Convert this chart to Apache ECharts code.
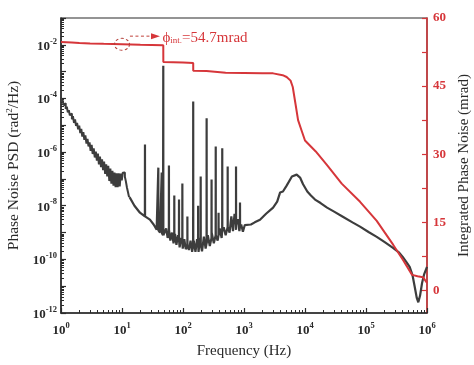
<!DOCTYPE html>
<html>
<head>
<meta charset="utf-8">
<script src="https://cdn.jsdelivr.net/npm/echarts@6/dist/echarts.min.js"></script>
<style>html,body{margin:0;padding:0;background:#fff;}#c{width:474px;height:365px;}</style>
</head>
<body>
<div id="c"></div>
<script>
// ---- Phase noise PSD (black), log10 of rad^2/Hz ----
// noisy low-frequency band (alternating upper / lower edge of the noise)
const lowFreq = [1.00,1.04,1.08,1.12,1.17,1.22,1.27,1.32,1.37,1.42,1.48,1.54,1.60,1.67,1.73,1.80,1.87,1.95,2.03,2.11,2.19,2.28,2.37,2.46,2.56,2.67,2.77,2.88,3.00,3.12,3.24,3.37,3.51,3.65,3.80,3.95,4.10,4.27,4.44,4.62,4.80,4.99,5.19,5.40,5.62,5.84,6.07,6.32,6.57,6.83,7.11,7.39,7.69,8.00,8.32,8.65,9.00,9.36,9.73,10.1,10.5,10.9,11.4,11.8,12.3,12.8,13.3];
const lowExp = [-3.98,-4.13,-4.05,-4.25,-4.18,-4.39,-4.31,-4.52,-4.44,-4.63,-4.56,-4.78,-4.66,-4.91,-4.78,-5.02,-4.91,-5.15,-5.01,-5.29,-5.13,-5.42,-5.26,-5.54,-5.38,-5.68,-5.51,-5.79,-5.64,-5.95,-5.73,-6.07,-5.86,-6.2,-5.98,-6.32,-6.06,-6.46,-6.17,-6.56,-6.27,-6.67,-6.35,-6.81,-6.46,-6.91,-6.51,-7.08,-6.61,-7.18,-6.7,-7.25,-6.76,-7.31,-6.79,-7.31,-6.79,-7.28,-6.8,-7.05,-6.77,-6.76,-6.92,-7.1,-7.32,-7.5,-7.68];
// rest of the spectrum
const psdFreq = [13.3,16,19.7,24,28.7,33,37,42,47,
  50,53,56,59,62,66,70,74,78,83,88,93,99,105,111,118,125,133,141,150,160,170,180,190,205,220,235,255,275,295,320,345,370,400,430,465,500,540,580,620,660,700,740,790,840,900,960,1030,1100,1300,1500,
  1830,2300,3000,3500,3900,4350,5000,6100,7300,8300,9300,10900,12500,14600,18000,23000,30000,41700,60000,79800,110000,150000,200000,277000,350000,400000,460000,520000,580000,630000,680000,720000,770000,830000,900000,1000000];
const psdExp = [-7.68,-8.0,-8.26,-8.4,-8.52,-8.7,-8.89,-9.0,-9.1,
  -9.1,-8.85,-9.2,-8.9,-9.3,-9.0,-9.4,-9.05,-9.46,-9.1,-9.55,-9.2,-9.6,-9.25,-9.62,-9.2,-9.65,-9.3,-9.72,-9.3,-9.72,-9.25,-9.72,-9.2,-9.7,-9.15,-9.6,-9.1,-9.5,-9.0,-9.4,-8.95,-9.3,-8.85,-9.2,-8.8,-9.1,-8.6,-9.0,-8.4,-8.95,-8.3,-8.9,-8.5,-8.95,-8.7,-8.97,-8.72,-8.78,-8.7,-8.62,
  -8.52,-8.3,-8.07,-7.85,-7.51,-7.47,-7.25,-6.91,-6.84,-6.95,-7.2,-7.47,-7.62,-7.77,-7.9,-8.07,-8.22,-8.41,-8.62,-8.78,-8.98,-9.16,-9.35,-9.57,-9.75,-9.91,-10.1,-10.28,-10.6,-11.03,-11.44,-11.6,-11.35,-10.88,-10.55,-10.28];
// spikes (line harmonics)
const spikeFreq = [23.8,39.4,44.8,47.5,58.8,72,86,97.6,118,147,177,195,244,294,344,383,440,540,740,860];
const spikePeakExp = [-5.72,-6.58,-6.76,-2.78,-6.5,-7.62,-7.77,-7.17,-8.4,-4.11,-8.0,-6.91,-4.74,-7.02,-5.79,-8.26,-5.86,-6.54,-6.54,-7.88];
const spikeBaseExp = [-8.4,-8.92,-9.02,-9.1,-9.0,-9.2,-9.3,-9.4,-9.5,-9.5,-9.5,-9.45,-9.4,-9.2,-9.1,-9.1,-8.95,-8.8,-8.7,-8.8];

// ---- Integrated phase noise (red), mrad ----
const intFreq = [1,1.5,2,3,5,10,20,47.5,47.6,100,147,147.2,243,246,500,1000,2000,3000,4300,5000,5800,6300,7000,7700,8900,10000,15000,23000,40000,80000,150000,280000,400000,570000,700000,860000,1000000];
const intVal  = [54.7,54.6,54.5,54.4,54.3,54.2,54.1,54.0,50.3,50.2,50.1,48.4,48.3,48.0,47.95,47.9,47.85,47.8,47.4,47.0,46.2,44.8,41.0,37.5,35.0,33.0,30.6,27.6,23.5,19.5,15.3,10.0,6.8,3.4,3.1,2.9,1.6];

// ---- ticks ----
const xMajor = [1,10,100,1e3,1e4,1e5,1e6];
const yMajor = [1e-12,1e-11,1e-10,1e-9,1e-8,1e-7,1e-6,1e-5,1e-4,1e-3,1e-2,1e-1];
const yLabels = [1e-12,1e-10,1e-8,1e-6,1e-4,1e-2];
const rLabels = [0,15,30,45,60];
const rTicks = [0,7.5,15,22.5,30,37.5,45,52.5,60];
const minorMult = [2,3,4,5,6,7,8,9];
function minors(majors){ const out=[]; for(let i=0;i<majors.length-1;i++){ for(const m of minorMult) out.push(majors[i]*m); } return out; }
const xMinor = minors(xMajor);
const yMinor = minors(yMajor);

// build PSD series
const lowPts = lowFreq.map((f,i)=>[f, Math.pow(10, lowExp[i])]);
const pts = psdFreq.map((f,i)=>[f, Math.pow(10, psdExp[i])]);
spikeFreq.forEach((f,i)=>{
  pts.push([f/1.003, Math.pow(10, spikeBaseExp[i])]);
  pts.push([f, Math.pow(10, spikePeakExp[i])]);
  pts.push([f*1.003, Math.pow(10, spikeBaseExp[i])]);
});
pts.sort((a,b)=>a[0]-b[0]);
const intPts = intFreq.map((f,i)=>[f,intVal[i]]);

const SERIF = '"Liberation Serif","DejaVu Serif",serif';
const DARK = '#2a2a2a';
const RED = '#d6363a';
const BLK = '#3d3d3d';
const expFmt = v => { const e = Math.round(Math.log10(v)); return '{b|10}{s|' + e + '}'; };
const richExp = {
  b:{fontFamily:SERIF,fontSize:13,fontWeight:'bold',color:DARK,verticalAlign:'bottom',lineHeight:16},
  s:{fontFamily:SERIF,fontSize:8.5,fontWeight:'bold',color:DARK,verticalAlign:'top',lineHeight:16,padding:[0,0,0,0]}
};

const chart = echarts.init(document.getElementById('c'), null, {renderer:'canvas'});
const option = {
  animation:false,
  backgroundColor:'#fff',
  grid:{left:61,right:47,top:18,bottom:52,containLabel:false,outerBoundsMode:'none',
        show:true,borderColor:DARK,borderWidth:1.2,backgroundColor:'transparent'},
  xAxis:[
    {type:'log',logBase:10,min:1,max:1e6,position:'bottom',
     name:'Frequency (Hz)',nameLocation:'middle',nameGap:31,
     nameTextStyle:{fontFamily:SERIF,fontSize:15,color:DARK},
     axisLine:{show:true,onZero:false,lineStyle:{color:DARK,width:1.5}},
     axisTick:{show:true,inside:true,length:5,customValues:xMajor,lineStyle:{color:DARK,width:1.2}},
     axisLabel:{show:true,margin:8,customValues:xMajor,formatter:expFmt,rich:richExp},
     splitLine:{show:false},minorTick:{show:false}},
    {type:'log',logBase:10,min:1,max:1e6,position:'bottom',
     axisLine:{show:false,onZero:false},
     axisTick:{show:true,inside:true,length:3,customValues:xMinor,lineStyle:{color:DARK,width:1}},
     axisLabel:{show:false},splitLine:{show:false}}
  ],
  yAxis:[
    {type:'log',logBase:10,min:1e-12,max:1e-1,position:'left',
     name:'Phase Noise PSD (rad{sp|2}/Hz)',nameLocation:'middle',nameGap:38,nameRotate:90,
     nameTextStyle:{fontFamily:SERIF,fontSize:15.5,color:DARK,
       rich:{sp:{fontFamily:SERIF,fontSize:9,color:DARK,verticalAlign:'top',lineHeight:18}}},
     axisLine:{show:true,onZero:false,lineStyle:{color:DARK,width:1.5}},
     axisTick:{show:true,inside:true,length:5,customValues:yMajor,lineStyle:{color:DARK,width:1.2}},
     axisLabel:{show:true,margin:4,customValues:yLabels,formatter:expFmt,rich:richExp},
     splitLine:{show:false}},
    {type:'log',logBase:10,min:1e-12,max:1e-1,position:'left',
     axisLine:{show:false,onZero:false},
     axisTick:{show:true,inside:true,length:3,customValues:yMinor,lineStyle:{color:DARK,width:1}},
     axisLabel:{show:false},splitLine:{show:false}},
    {type:'value',min:-5,max:60,position:'right',
     name:'Integrated Phase Noise (mrad)',nameLocation:'middle',nameGap:25,nameRotate:90,
     nameTextStyle:{fontFamily:SERIF,fontSize:15,color:DARK},
     axisLine:{show:true,onZero:false,lineStyle:{color:RED,width:1.5}},
     axisTick:{show:true,inside:true,length:5,customValues:rTicks,lineStyle:{color:RED,width:1.2}},
     axisLabel:{show:true,margin:6,customValues:rLabels,fontFamily:SERIF,fontSize:13,fontWeight:'bold',color:RED},
     splitLine:{show:false}}
  ],
  series:[
    {type:'line',name:'PSD low',xAxisIndex:0,yAxisIndex:0,data:lowPts,showSymbol:false,symbol:'none',step:'middle',
     lineStyle:{color:BLK,width:2},z:2},
    {type:'line',name:'PSD',xAxisIndex:0,yAxisIndex:0,data:pts,showSymbol:false,symbol:'none',
     lineStyle:{color:BLK,width:2.2},z:2},
    {type:'line',name:'Integrated',xAxisIndex:0,yAxisIndex:2,data:intPts,showSymbol:false,symbol:'none',
     lineStyle:{color:RED,width:2},z:3}
  ]
};
chart.setOption(option);

// annotation in data coordinates of the red axis
const P = (f,v)=>chart.convertToPixel({xAxisIndex:0,yAxisIndex:2},[f,v]);
const ell = P(10,54.2), a0 = P(13.5,56.0), a1 = P(42,56.0), tx = P(46,56.0);
chart.setOption({graphic:[
  {type:'circle',x:ell[0],y:ell[1],scaleX:1.25,scaleY:1,shape:{cx:0,cy:0,r:6},
   style:{fill:'none',stroke:'#b5403a',lineWidth:0.9,lineDash:[2.5,2]},z:10},
  {type:'line',shape:{x1:a0[0],y1:a0[1],x2:a1[0]-8,y2:a1[1]},
   style:{stroke:'#c0403a',lineWidth:1,lineDash:[3,2.5]},z:10},
  {type:'polygon',shape:{points:[[a1[0],a1[1]],[a1[0]-9,a1[1]-3],[a1[0]-9,a1[1]+3]]},
   style:{fill:RED},z:10},
  {type:'text',x:tx[0],y:tx[1],
   style:{text:'{a|ϕ}{b|int.}{a|=54.7mrad}',verticalAlign:'middle',
     rich:{a:{fontFamily:SERIF,fontSize:15,fill:RED,verticalAlign:'bottom',lineHeight:18},
           b:{fontFamily:SERIF,fontSize:9,fill:RED,verticalAlign:'bottom',lineHeight:11}}},z:10}
]});
</script>
</body>
</html>
